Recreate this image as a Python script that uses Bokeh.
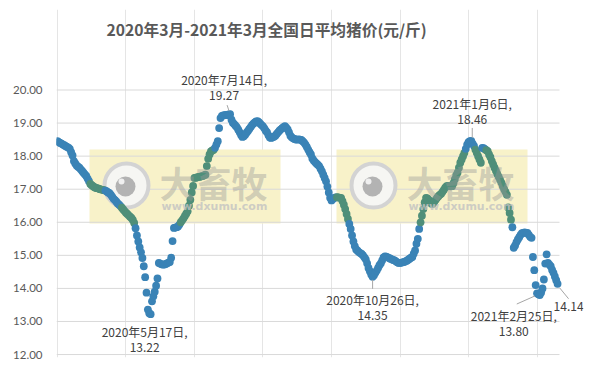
import pandas as pd
from bokeh.plotting import figure
from bokeh.models import Range1d, FixedTicker, PrintfTickFormatter, Label, Arrow, ColumnDataSource
from bokeh.core.properties import value
from bokeh.embed import file_html
from bokeh.resources import INLINE

# ---------------- data ----------------
start_date = "2020-03-10"
prices = [
    18.45, 18.42, 18.40, 18.38, 18.35, 18.33, 18.30, 18.28, 18.26, 18.22,
    18.12, 18.02, 17.85, 17.78, 17.72, 17.68, 17.65, 17.60, 17.55, 17.50,
    17.45, 17.40, 17.32, 17.24, 17.16, 17.12, 17.09, 17.06, 17.04, 17.03,
    17.02, 17.00, 16.99, 16.98, 16.97, 16.96, 16.93, 16.90, 16.88, 16.83,
    16.77, 16.71, 16.67, 16.62, 16.57, 16.53, 16.49, 16.44, 16.39, 16.34,
    16.29, 16.25, 16.21, 16.17, 16.13, 16.07, 15.98, 15.82, 15.60, 15.42,
    15.24, 15.09, 14.92, 14.67, 14.34, 13.87, 13.36, 13.25, 13.22, 13.61,
    13.76, 13.90, 14.08, 14.30, 14.77, 14.75, 14.73, 14.72, 14.72, 14.74,
    14.76, 14.78, 14.80, 14.93, 15.43, 15.83, 15.84, 15.85, 15.87, 15.93,
    16.00, 16.06, 16.12, 16.19, 16.26, 16.33, 16.50, 16.68, 16.90, 17.10,
    17.34, 17.35, 17.36, 17.37, 17.38, 17.39, 17.40, 17.42, 17.44, 17.70,
    17.92, 18.05, 18.14, 18.17, 18.19, 18.25, 18.35, 18.45, 18.85, 19.15,
    19.22, 19.23, 19.24, 19.25, 19.24, 19.26, 19.27, 19.10, 19.01, 18.97,
    18.92, 18.87, 18.80, 18.72, 18.64, 18.58, 18.60, 18.65, 18.71, 18.76,
    18.82, 18.88, 18.94, 18.98, 19.02, 19.05, 19.06, 19.03, 18.98, 18.94,
    18.90, 18.84, 18.77, 18.72, 18.63, 18.56, 18.55, 18.57, 18.59, 18.62,
    18.67, 18.72, 18.77, 18.81, 18.85, 18.88, 18.91, 18.86, 18.81, 18.72,
    18.62, 18.57, 18.54, 18.52, 18.50, 18.50, 18.51, 18.50, 18.49, 18.45,
    18.41, 18.35, 18.28, 18.20, 18.12, 18.05, 17.93, 17.87, 17.82, 17.78,
    17.74, 17.70, 17.62, 17.54, 17.44, 17.34, 17.24, 17.08, 16.90, 16.74,
    16.66, 16.70, 16.74, 16.75, 16.76, 16.75, 16.74, 16.74, 16.64, 16.53,
    16.40, 16.25, 16.10, 15.95, 15.80, 15.60, 15.42, 15.28, 15.18, 15.14,
    15.10, 15.07, 15.04, 15.00, 14.94, 14.88, 14.76, 14.62, 14.52, 14.42,
    14.35, 14.40, 14.47, 14.54, 14.62, 14.70, 14.76, 14.85, 14.94, 14.97,
    14.96, 14.94, 14.92, 14.90, 14.88, 14.86, 14.85, 14.82, 14.79, 14.77,
    14.77, 14.78, 14.79, 14.80, 14.82, 14.84, 14.87, 14.90, 14.93, 14.95,
    15.05, 15.15, 15.35, 15.50, 15.80, 16.00, 16.20, 16.40, 16.60, 16.74,
    16.72, 16.68, 16.62, 16.56, 16.56, 16.62, 16.68, 16.74, 16.79, 16.83,
    16.86, 16.92, 16.98, 17.05, 17.09, 17.10, 17.10, 17.09, 17.09, 17.18,
    17.30, 17.42, 17.50, 17.65, 17.80, 17.90, 18.00, 18.10, 18.22, 18.35,
    18.42, 18.45, 18.46, 18.38, 18.31, 18.20, 18.10, 18.00, 17.90, 17.80,
    18.25, 18.24, 18.21, 18.18, 18.15, 18.05, 17.97, 17.85, 17.75, 17.65,
    17.56, 17.46, 17.38, 17.29, 17.20, 17.10, 17.00, 16.92, 16.83, 16.45,
    16.28, 16.08, 15.85, 15.23, 15.30, 15.40, 15.48, 15.55, 15.62, 15.67,
    15.68, 15.69, 15.68, 15.68, 15.62, 15.56, 15.53, 14.95, 14.55, 14.10,
    13.85, 13.82, 13.80, 13.88, 14.00, 14.27, 14.75, 15.03, 14.77, 14.72,
    14.67, 14.56, 14.47, 14.36, 14.25, 14.14,
]
dates = pd.date_range(start_date, periods=len(prices), freq="D")
days = list(range(len(prices)))

title_text = "2020年3月-2021年3月全国日平均猪价(元/斤)"
y_ticks = [12, 13, 14, 15, 16, 17, 18, 19, 20]
highlight_dates = ["2020-05-17", "2020-07-14", "2020-10-26", "2021-01-06", "2021-02-25", "2021-03-10"]
highlight_show_date = [True, True, True, True, True, False]
watermark_text = "大畜牧"
watermark_url = "www.dxumu.com"

# ---------------- layout (page pixel geometry) ----------------
W, H = 584, 363
OFF = 1                       # observed page offset of the canvas
F_LEFT, F_TOP, F_RIGHT, F_BOTTOM = 57, 10, 584, 358   # frame in page px
GRID_RIGHT = 560              # gridlines end here (page px)
SX = 1.3702                   # px per day
SY = 33.068                   # px per price unit
X0 = -0.7                     # day at frame left
V20_PAGE = 90.5               # page y of value 20
X1 = X0 + (F_RIGHT - F_LEFT) / SX
Y1 = 20 + (V20_PAGE - F_TOP) / SY
Y0 = Y1 - (F_BOTTOM - F_TOP) / SY


def to_day(xp):
    return X0 + (xp - F_LEFT) / SX


def to_val(yp):
    return Y1 - (yp - F_TOP) / SY


def page_x(d):
    return F_LEFT + (d - X0) * SX


def page_y(v):
    return F_TOP + (Y1 - v) * SY


p = figure(width=W, height=H, output_backend="svg", toolbar_location=None,
           x_range=Range1d(X0, X1), y_range=Range1d(Y0, Y1),
           x_axis_location=None,
           min_border_left=F_LEFT - OFF, min_border_right=W + OFF - F_RIGHT,
           min_border_top=F_TOP - OFF, min_border_bottom=H + OFF - F_BOTTOM)
p.outline_line_color = None
p.background_fill_color = "white"
p.border_fill_color = "white"

ax = p.yaxis[0]
ax.ticker = FixedTicker(ticks=y_ticks)
ax.formatter = PrintfTickFormatter(format="%.2f")
ax.axis_line_color = None
ax.major_tick_line_color = None
ax.minor_tick_line_color = None
ax.major_tick_out = 0
ax.major_tick_in = 0
ax.major_label_standoff = 14
ax.major_label_text_font = "Lato"
ax.major_label_text_font_size = "11.5px"
ax.major_label_text_color = "#595959"
p.ygrid.grid_line_color = None

# ---------------- watermark boxes (under points) ----------------
wm_boxes = [(90, 281, 150, 224), (337, 528, 150, 224)]
wm_logo = [(127, 186), (374, 186)]
wm_text = [(214, 182), (461, 182)]
wm_url = [(215, 207), (462, 207)]

p.quad(left=[to_day(b[0]) for b in wm_boxes], right=[to_day(b[1]) for b in wm_boxes],
       top=[to_val(b[2]) for b in wm_boxes], bottom=[to_val(b[3]) for b in wm_boxes],
       fill_color="#f8f2c9", line_color=None)

# gridlines
p.segment(x0=[X0] * len(y_ticks), x1=[to_day(GRID_RIGHT)] * len(y_ticks),
          y0=y_ticks, y1=y_ticks, line_color="#d9d9d9", line_width=1)

p.scatter(x=[to_day(c[0]) for c in wm_logo], y=[to_val(c[1]) for c in wm_logo],
          size=44, fill_color="#f6f6f3", line_color="#d3d3d3", line_width=4)
p.scatter(x=[to_day(c[0] - 1) for c in wm_logo], y=[to_val(c[1] + 1) for c in wm_logo],
          size=20, fill_color="#b3b3b3", line_color=None)
p.scatter(x=[to_day(c[0] - 5) for c in wm_logo], y=[to_val(c[1] - 4) for c in wm_logo],
          size=6, fill_color="#f0f0f0", line_color=None)

# ---------------- points ----------------
colors = []
for d, v in zip(days, prices):
    xp, yp = page_x(d), page_y(v)
    inside = any(b[0] <= xp <= b[1] and b[2] <= yp <= b[3] for b in wm_boxes)
    in_logo = any((xp - c[0]) ** 2 + (yp - c[1]) ** 2 < 22 ** 2 for c in wm_logo)
    colors.append("#4f8f79" if inside and not in_logo else "#3a83b6")

src = ColumnDataSource(dict(day=days, price=prices, color=colors))
p.scatter(x="day", y="price", source=src, size=7.8, fill_color="color", line_color=None)

# ---------------- watermark text (over points) ----------------
p.text(x=[to_day(t[0]) for t in wm_text], y=[to_val(t[1]) for t in wm_text],
       text=[watermark_text] * 2, text_font=value("Noto Sans CJK SC"), text_font_style="bold",
       text_font_size="36px", text_color="#9a9a9a", text_alpha=0.42,
       text_align="center", text_baseline="middle")
p.text(x=[to_day(t[0]) for t in wm_url], y=[to_val(t[1]) for t in wm_url],
       text=[watermark_url] * 2, text_font=value("DejaVu Sans"), text_font_style="bold",
       text_font_size="11px", text_color="#c2c2c2", text_alpha=0.8,
       text_align="center", text_baseline="middle")

# ---------------- title ----------------
p.add_layout(Label(x=to_day(107), y=to_val(30), text=title_text, text_font="Noto Sans CJK SC",
                   text_font_style="bold", text_font_size="15.7px", text_color="#595959",
                   text_align="left", text_baseline="middle"))

# ---------------- data labels ----------------
label_offsets = [(-6, 25), (-6, -27), (0, 30), (1, -30), (-26, 28), (11, 23)]
leader_lines = [None, ((-1, -3), (-3, -9)), ((0, 3), (0, 12)), ((1, -3), (1, -13)),
                ((-5, 1), (-23, 9)), ((2, 4), (11, 15))]
date_index = {dt.strftime("%Y-%m-%d"): i for i, dt in enumerate(dates)}
for hd, show, off, ld in zip(highlight_dates, highlight_show_date, label_offsets, leader_lines):
    i = date_index[hd]
    dt, v = dates[i], prices[i]
    txt = f"{dt.year}年{dt.month}月{dt.day}日,\n{v:.2f}" if show else f"{v:.2f}"
    p.add_layout(Label(x=days[i], y=v, x_offset=off[0], y_offset=-off[1], text=txt,
                       text_font="Noto Sans CJK SC", text_font_size="12px", text_color="#404040",
                       text_align="center", text_baseline="middle", text_line_height=0.88))
    if ld is not None:
        (ax0, ay0), (ax1, ay1) = ld
        p.add_layout(Arrow(end=None, x_start=days[i] + ax0 / SX, y_start=v - ay0 / SY,
                           x_end=days[i] + ax1 / SX, y_end=v - ay1 / SY,
                           line_color="#a6a6a6", line_width=1))

open("out.html", "w").write(file_html(p, INLINE))
